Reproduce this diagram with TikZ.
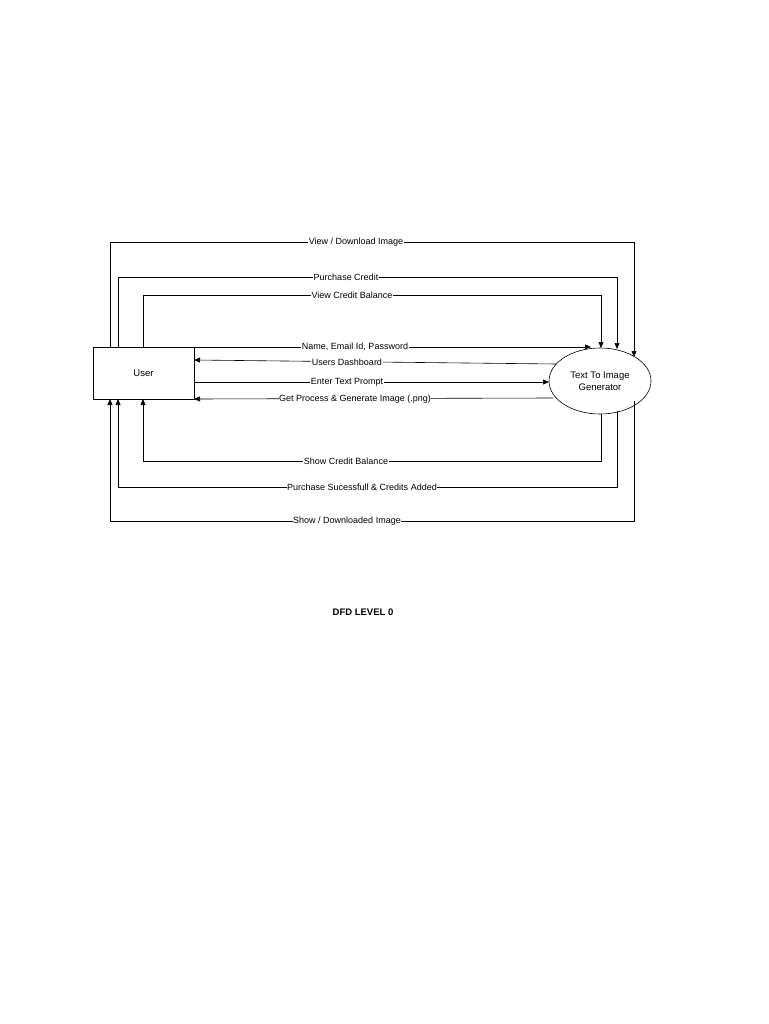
\documentclass[tikz,border=0pt]{standalone}
\usepackage{fontspec}
\setmainfont{Liberation Sans}
\usetikzlibrary{shapes.geometric,arrows.meta}
\begin{document}
\begin{tikzpicture}[x=1pt,y=-1pt,
  flow/.style={draw=black,line width=0.6pt,-{Triangle[length=6pt,width=5pt]}},
  lbl/.style={fill=white,inner sep=0.5pt,font=\fontsize{9}{10}\selectfont}]
\useasboundingbox (0,0) rectangle (768,1024);
\node[draw,line width=0.6pt,minimum width=101pt,minimum height=52pt,font=\fontsize{9.5}{11}\selectfont] (user) at (143.5,373) {User};
\node[draw,ellipse,line width=0.6pt,minimum width=102pt,minimum height=66pt,align=center,font=\fontsize{9.5}{12}\selectfont] (gen) at (600,381) {Text To Image\\Generator};
\coordinate (u1) at (110,347); \coordinate (u2) at (118,347); \coordinate (u3) at (143,347);
\coordinate (b1) at (110,399); \coordinate (b2) at (118,399); \coordinate (b3) at (143,399);
\draw[flow] (u1) |- (634,242) -- (634,357);
\draw[flow] (u2) |- (617,277) -- (617,349);
\draw[flow] (u3) |- (601,295) -- (601,348);
\draw[flow] (194,347) -- (591,347);
\draw[flow] (556,364) -- (194,360);
\draw[flow] (194,382) -- (549,382);
\draw[flow] (553,398) -- (194,399);
\draw[flow] (601,414) |- (143,461) -- (b3);
\draw[flow] (617,411) |- (118,487) -- (b2);
\draw[flow] (634,401) |- (110,521) -- (b1);
\node[lbl] (l1) at (356,242) {View / Download Image};
\node[lbl] (l2) at (346,277) {Purchase Credit};
\node[lbl] (l3) at (352,295) {View Credit Balance};
\node[lbl] (l4) at (355,347) {Name, Email Id, Password};
\node[lbl] (l5) at (347,362) {Users Dashboard};
\node[lbl] (l6) at (347,382) {Enter Text Prompt};
\node[lbl] (l7) at (355,399) {Get Process \& Generate Image (.png)};
\node[lbl] (l8) at (346,461) {Show Credit Balance};
\node[lbl] (l9) at (362,487) {Purchase Sucessfull \& Credits Added};
\node[lbl] (l10) at (347,521) {Show / Downloaded Image};
\node[font=\bfseries\fontsize{9.5}{11}\selectfont] (title) at (363,612) {DFD LEVEL 0};
\end{tikzpicture}
\end{document}
